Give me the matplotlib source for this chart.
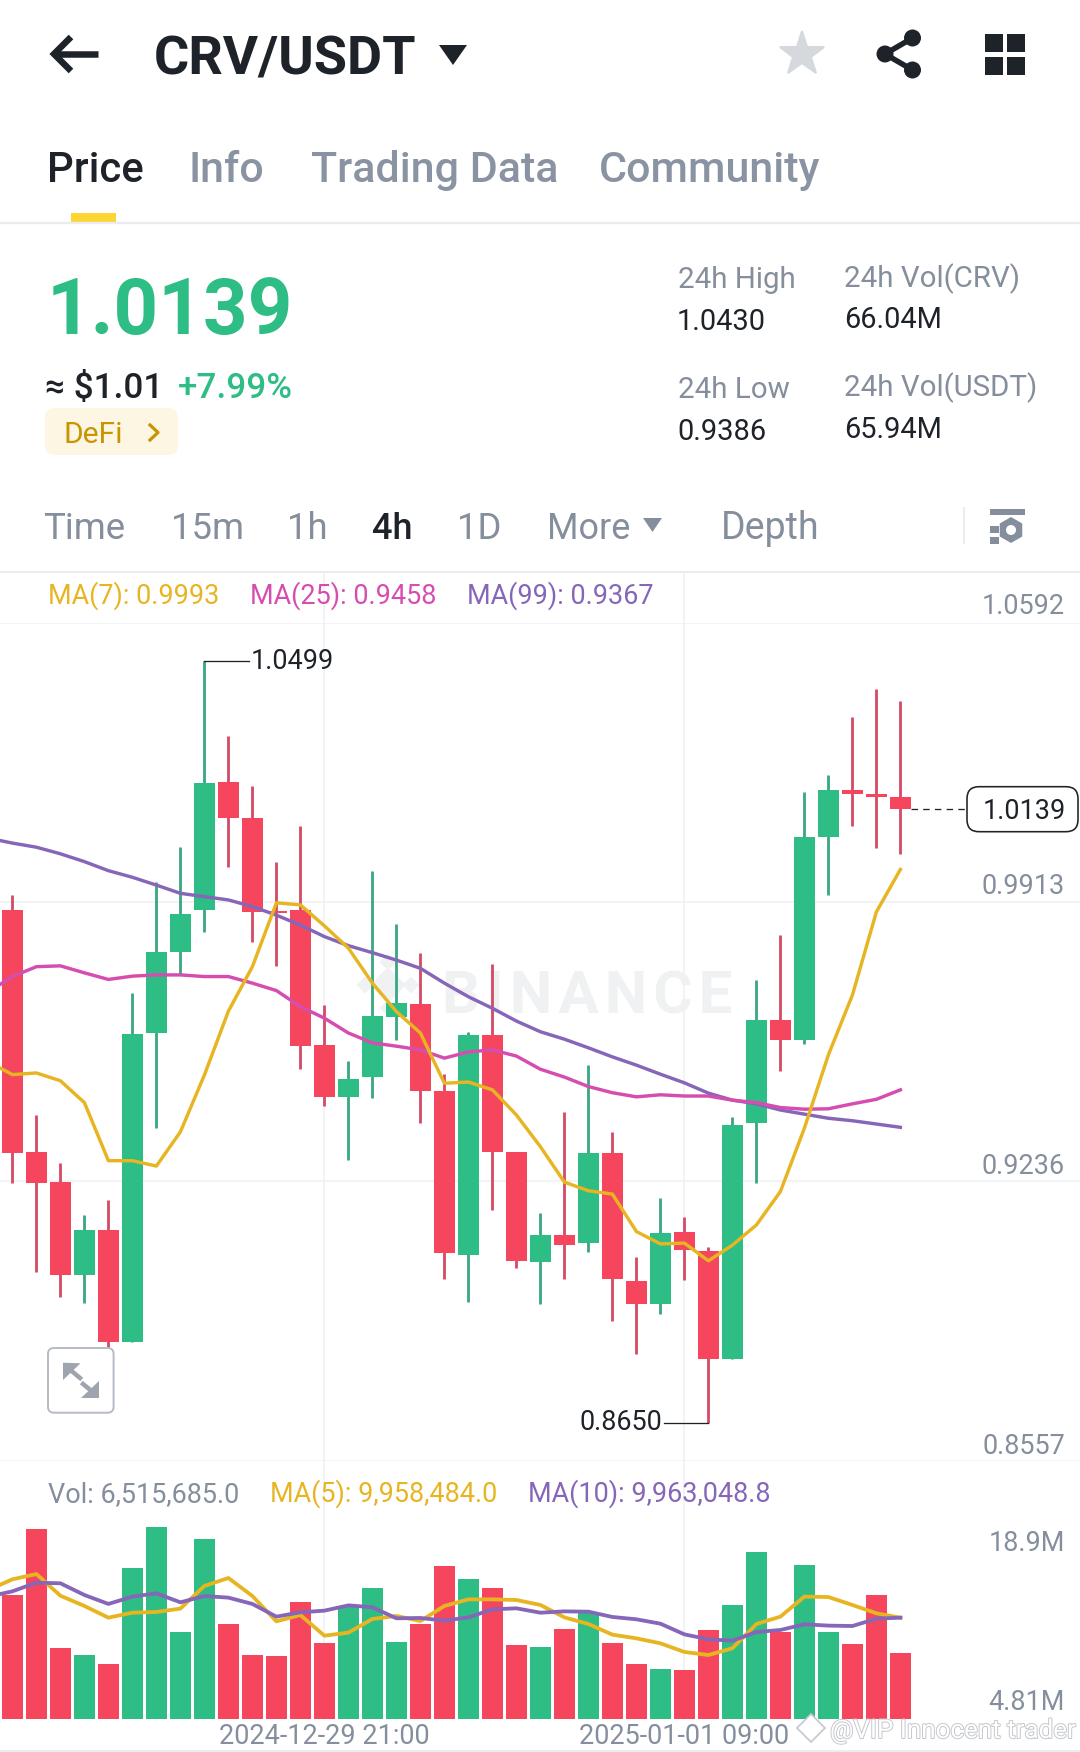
import numpy as np
import matplotlib
matplotlib.use("Agg")
import matplotlib.pyplot as plt
from matplotlib.patches import FancyBboxPatch, Polygon, Rectangle, Circle, RegularPolygon
from matplotlib.transforms import ScaledTranslation
import matplotlib.patheffects as pe

# ---------- data ----------
opens = [.9895,.9307,.9234,.9009,.9118,.8846,.9596,.9793,.9895,1.0205,1.0119,.9891,.9895,.9568,.9440,.9489,.9636,.9666,.9455,.9058,
         .9591,.9308,.9041,.9106,.9086,.9305,.8994,.8939,.9113,.9066,.8805,.9378,.9628,.9580,1.0072,1.0186,1.0177,1.0170]
highs = [.9931,.9397,.9280,.9154,.9191,.9693,.9963,1.0048,1.0499,1.0317,1.0196,1.0012,1.0098,.9664,.9529,.9989,.9861,.9790,.9496,.9598,
         .9764,.9308,.9160,.9404,.9518,.9356,.9052,.9195,.9150,.9077,.9392,.9725,.9834,1.0182,1.0223,1.0364,1.0430,1.0402]
lows = [.9232,.9017,.8955,.8941,.8831,.8846,.9366,.9737,.9841,1.0000,.9817,.9759,.9509,.9419,.9288,.9437,.9579,.9378,.8999,.8944,
        .9166,.9026,.8938,.9000,.9065,.8898,.8817,.8914,.8996,.8650,.8805,.9233,.9504,.9570,.9932,1.0098,1.0044,1.0031]
closes = [.9305,.9233,.9009,.9118,.8846,.9594,.9793,.9885,1.0203,1.0119,.9890,.9888,.9565,.9441,.9485,.9637,.9669,.9455,.9062,.9592,
          .9308,.9043,.9106,.9081,.9305,.8999,.8939,.9111,.9068,.8805,.9373,.9628,.9580,1.0072,1.0186,1.0177,1.0168,1.0139]
ma7 = [.9526,.9495,.9499,.9480,.9427,.9286,.9286,.9273,.9356,.9494,.9649,.9757,.9912,.9907,.9856,.9802,.9717,.9648,.9596,.9474,
       .9477,.9458,.9397,.9320,.9234,.9213,.9205,.9114,.9084,.9086,.9043,.9081,.9130,.9211,.9365,.9543,.9688,.9890,.9993]
ma25 = [.9696,.9733,.9757,.9759,.9742,.9726,.9734,.9737,.9737,.9733,.9733,.9717,.9699,.9660,.9632,.9596,.9572,.9564,.9555,.9535,
        .9550,.9555,.9540,.9508,.9489,.9466,.9451,.9441,.9446,.9443,.9443,.9433,.9427,.9415,.9411,.9412,.9424,.9435,.9458]
ma99 = [1.0069,1.0057,1.0047,1.0031,1.0012,.9990,.9974,.9955,.9935,.9927,.9919,.9903,.9882,.9858,.9830,.9808,.9791,.9773,.9753,.9717,
        .9684,.9656,.9625,.9599,.9581,.9560,.9538,.9518,.9496,.9475,.9450,.9433,.9424,.9409,.9399,.9389,.9383,.9375,.9367]
volumes = [12.16,18.71,7.01,6.26,5.44,14.84,18.91,8.52,17.66,9.31,6.26,6.19,11.53,7.50,10.98,12.85,7.54,9.37,15.04,13.80,
           12.88,7.27,7.08,8.88,10.39,7.50,5.41,4.95,4.82,8.78,11.21,16.42,8.59,15.14,8.52,7.41,12.19,6.516]
vol_ma5 = [12.68,13.73,14.25,12.12,11.11,9.96,10.45,10.52,10.85,13.08,13.86,12.09,9.60,10.22,8.19,8.49,9.83,10.13,9.63,11.11,
           11.76,11.76,11.70,11.21,9.99,9.34,8.29,7.93,7.44,6.59,6.29,6.95,9.34,10.06,12.03,11.99,11.21,10.39,9.958]
vol_ma10 = [12.03,12.55,13.40,13.34,12.19,11.31,12.03,12.35,11.47,12.09,11.93,11.31,10.06,10.49,10.65,11.17,10.98,9.90,9.93,9.67,
            9.99,10.78,10.88,10.45,10.58,10.55,10.03,9.80,9.37,8.32,7.83,7.70,8.55,8.75,9.31,9.18,9.14,9.86,9.963]
price_ticks = [1.0592, 0.9913, 0.9236, 0.8557]
price_labels = ["1.0592", "0.9913", "0.9236", "0.8557"]
vol_ticks = [18.9, 4.81]
vol_labels = ["18.9M", "4.81M"]
date_ticks = [13, 28]
date_labels = ["2024-12-29 21:00", "2025-01-01 09:00"]
high_mark, low_mark, last_price = 1.0499, 0.8650, 1.0139

# ---------- style ----------
W, H = 1080, 1752
UP, DOWN = "#2EBD85", "#F6465D"
UPW, DOWNW = "#38A883", "#D34B65"
YEL, MAG, PUR = "#E8B522", "#D64DB0", "#8666B8"
DARK, GREY, LINE = "#1E2329", "#858E9C", "#EAECEF"
GRID = "#EEF0F4"
FONT = "Roboto"
px = 0.72  # px -> pt at dpi 100

fig = plt.figure(figsize=(W/100, H/100), dpi=100, facecolor="white")

def box(x0, ytop, x1, ybot):
    return [x0/W, 1-ybot/H, (x1-x0)/W, (ybot-ytop)/H]

bg = fig.add_axes([0, 0, 1, 1], zorder=0); bg.set_xlim(0, W); bg.set_ylim(H, 0); bg.axis("off")
ui = fig.add_axes([0, 0, 1, 1], zorder=3); ui.set_xlim(0, W); ui.set_ylim(H, 0); ui.axis("off"); ui.patch.set_alpha(0)

def T(a, x, y, s, size, color=DARK, ha="left", weight="normal", **kw):
    return a.text(x, y, s, fontsize=size*px, color=color, ha=ha, va="baseline", weight=weight, family=FONT, **kw)

# ---------- background grid + watermark ----------
WM = "#F0F1F2"
for vx in (324.4, 684.4):
    bg.plot([vx, vx], [573, 1719], color=GRID, lw=1.5*px)
bg.plot([0, W], [572, 572], color=LINE, lw=2*px)
T(bg, 442, 1013, "B\u200aI\u200aN\u200aA\u200aN\u200aC\u200aE", 60, WM, weight="bold")
for cx, cy, r in [(388, 985, 15), (365, 985, 7), (411, 985, 7), (388, 962, 7), (388, 1008, 7)]:
    bg.add_patch(RegularPolygon((cx, cy), 4, radius=r*1.2, orientation=0, color=WM, lw=0))

# ---------- price panel ----------
xlim = (-12.4/24, (W-12.4)/24)
ax = fig.add_axes(box(0, 622.7, W, 1461), zorder=1)
ax.patch.set_alpha(0)
ax.set_xlim(*xlim); ax.set_ylim(0.8557, 1.0592)
for s in ax.spines.values():
    s.set_visible(False)
x = np.arange(len(opens))
o, h_, l_, c = map(np.array, (opens, highs, lows, closes))
up = c >= o
ax.vlines(x, l_, h_, colors=[UPW if u else DOWNW for u in up], lw=2.8*px, zorder=2)
ax.bar(x, np.abs(c-o), bottom=np.minimum(o, c), width=20.7/24,
       color=[UP if u else DOWN for u in up], lw=0, zorder=3)
xm = np.arange(-1, len(opens))
ax.plot(xm, ma99, color=PUR, lw=3.4*px, zorder=4)
ax.plot(xm, ma25, color=MAG, lw=3.4*px, zorder=4)
ax.plot(xm, ma7, color=YEL, lw=3.4*px, zorder=4)
ax.set_xticks([]); ax.yaxis.tick_right()
ax.set_yticks(price_ticks, price_labels)
ax.grid(axis="y", color=GRID, lw=1.5*px, zorder=0)
ax.set_axisbelow(True)
ax.tick_params(axis="y", length=0, pad=-15*px, labelsize=27*px, labelcolor=GREY)
for lbl, dy in zip(ax.get_yticklabels(), (8.5, 8.5, 7.5, 7)):
    lbl.set_family(FONT); lbl.set_ha("right"); lbl.set_va("baseline")
    lbl.set_transform(lbl.get_transform() + ScaledTranslation(0, dy/100, fig.dpi_scale_trans))

# extremes and last price
ax.plot([8, 9.84], [high_mark]*2, color=DARK, lw=1.3*px, zorder=5)
ax.text(9.94, high_mark, f"{high_mark:.4f}", fontsize=27*px, color=DARK, family=FONT, va="center", ha="left", zorder=6)
ax.plot([27.15, 29], [low_mark]*2, color=DARK, lw=1.3*px, zorder=5)
ax.text(27.07, low_mark, f"{low_mark:.4f}", fontsize=27*px, color=DARK, family=FONT, va="center", ha="right", zorder=6)
ax.plot([37.45, 39.7], [last_price]*2, color=DARK, lw=1.3*px, ls=(0, (5, 4)), zorder=5)

# ---------- volume panel ----------
vol = fig.add_axes(box(0, 1461, W, 1719), zorder=1)
vol.patch.set_alpha(0)
vol.set_xlim(*xlim); vol.set_ylim(0, 258*0.0983)
for s in vol.spines.values():
    s.set_visible(False)
vol.bar(x, volumes, width=20.7/24, color=[UP if u else DOWN for u in up], lw=0, zorder=2)
vol.plot(xm, vol_ma5, color=YEL, lw=3.8*px, zorder=3)
vol.plot(xm, vol_ma10, color=PUR, lw=3.8*px, zorder=3)
vol.yaxis.tick_right()
vol.set_yticks(vol_ticks, vol_labels)
vol.tick_params(axis="y", length=0, pad=-15*px, labelsize=27*px, labelcolor=GREY)
for lbl, dy in zip(vol.get_yticklabels(), (-24.5, -40)):
    lbl.set_family(FONT); lbl.set_ha("right"); lbl.set_va("baseline")
    lbl.set_transform(lbl.get_transform() + ScaledTranslation(0, dy/100, fig.dpi_scale_trans))
vol.set_xticks(date_ticks, date_labels)
vol.tick_params(axis="x", length=0, pad=3, labelsize=27*px, labelcolor=GREY)
for lbl in vol.get_xticklabels():
    lbl.set_family(FONT)

# ---------- header ----------
bg.plot([0, W], [222.7, 222.7], color=LINE, lw=2.4*px)
bg.add_patch(Rectangle((71, 213), 45, 9, color="#FCD535", lw=0))
ui.plot([98, 55], [54, 54], color=DARK, lw=6.5*px, solid_capstyle="butt")
ui.plot([71, 54, 71], [37, 54, 71], color=DARK, lw=6.5*px, solid_joinstyle="miter", solid_capstyle="butt")
T(ui, 154, 74, "CRV/USDT", 54, DARK, weight="bold")
ui.add_patch(Polygon([(439, 45), (467, 45), (453, 65)], closed=True, color=DARK, lw=0, joinstyle="round"))
ui.plot([802], [54], marker="*", ms=47*px, color="#D5D9DE", mec="#D5D9DE", mew=1.5, lw=0)
for p, q in [((912.5, 38), (885, 54)), ((885, 54), (912.5, 70))]:
    ui.plot([p[0], q[0]], [p[1], q[1]], color=DARK, lw=5.5*px)
for cc in [(912.5, 38), (885, 54), (912.5, 70)]:
    ui.add_patch(Circle(cc, 8.5, color=DARK, lw=0))
for xx, yy in [(985, 34), (1007, 34), (985, 57), (1007, 57)]:
    ui.add_patch(Rectangle((xx, yy), 18, 17.5, color=DARK, lw=0))

T(ui, 46.5, 182, "Price", 42, DARK, weight="medium")
T(ui, 188, 182, "Info", 43, "#8A93A2", weight="medium")
T(ui, 311, 182, "Trading Data", 43, "#8A93A2", weight="medium")
T(ui, 599, 182, "Community", 43, "#8A93A2", weight="medium")

T(ui, 47, 334, "1.0139", 78, UP, weight="bold")
T(ui, 45, 398, "≈ $1.01", 35, DARK, weight="medium")
T(ui, 178, 398, "+7.99%", 35, UP, weight="medium")
ui.add_patch(FancyBboxPatch((55, 418), 113, 27, boxstyle="round,pad=10,rounding_size=10", fc="#FDF6E3", ec="none"))
T(ui, 64, 443, "DeFi", 30, "#C99400")
ui.plot([150, 158, 150], [425, 432.5, 440], color="#C99400", lw=3.2*px)

T(ui, 678, 288, "24h High", 29.5, GREY)
T(ui, 677, 330, "1.0430", 29, DARK)
T(ui, 844, 287, "24h Vol(CRV)", 29.5, GREY)
T(ui, 844, 328, "66.04M", 29, DARK)
T(ui, 678, 398, "24h Low", 29.5, GREY)
T(ui, 677, 440, "0.9386", 29, DARK)
T(ui, 844, 396.5, "24h Vol(USDT)", 29.5, GREY)
T(ui, 844, 438, "65.94M", 29, DARK)

T(ui, 43.5, 539, "Time", 36.5, GREY)
T(ui, 170.5, 539, "15m", 36.5, GREY)
T(ui, 287.5, 539, "1h", 36.5, GREY)
T(ui, 372, 539, "4h", 36, DARK, weight="medium")
T(ui, 457.5, 539, "1D", 36.5, GREY)
T(ui, 547, 539, "More", 36, GREY)
ui.add_patch(Polygon([(643, 518), (662, 518), (652.5, 532)], closed=True, color=GREY, lw=0))
T(ui, 720.5, 539, "Depth", 37.5, GREY)
ui.plot([964, 964], [508, 543], color=LINE, lw=2*px)
ui.add_patch(Rectangle((990, 509), 35, 5.5, color=GREY, lw=0))
ui.add_patch(Rectangle((990, 526), 9, 6.5, color=GREY, lw=0))
ui.add_patch(Rectangle((990, 537), 9, 6.5, color=GREY, lw=0))
ui.add_patch(RegularPolygon((1011, 530), 6, radius=13, color=GREY, lw=0))
ui.add_patch(Circle((1011, 530), 5, color="white", lw=0))

T(ui, 48, 604, "MA(7): 0.9993", 27, YEL)
T(ui, 250, 604, "MA(25): 0.9458", 27, MAG)
T(ui, 467, 604, "MA(99): 0.9367", 27, PUR)
T(ui, 48, 1502, "Vol: 6,515,685.0", 27, GREY)
T(ui, 270, 1502, "MA(5): 9,958,484.0", 27, YEL)
T(ui, 528, 1502, "MA(10): 9,963,048.8", 27, PUR)

# last-price pill
ui.add_patch(FancyBboxPatch((979, 798.7), 87, 21, boxstyle="round,pad=12,rounding_size=12", fc="white", ec=DARK, lw=1.6*px))
T(ui, 982.5, 819, "1.0139", 27, DARK)
# expand button
ui.add_patch(FancyBboxPatch((54, 1354), 53.6, 52.7, boxstyle="round,pad=6,rounding_size=6", fc="white", ec="#B7BDC6", lw=2*px))
BTN = "#9EA5AE"
ui.add_patch(Polygon([(63, 1362.7), (80.5, 1363.3), (63, 1380)], closed=True, color=BTN, lw=0))
ui.add_patch(Polygon([(99, 1398), (81, 1398), (99, 1381)], closed=True, color=BTN, lw=0))
ui.plot([68, 80], [1368, 1378], color=BTN, lw=4.5*px)
ui.plot([83, 94], [1384, 1393], color=BTN, lw=4.5*px)

# footer watermark and line
bg.plot([0, W], [1750.5, 1750.5], color=LINE, lw=2*px)
wm = T(ui, 830, 1738, "@VIP Innocent trader", 26, "white")
wm.set_path_effects([pe.withStroke(linewidth=1.4, foreground="#C4C8CE")])
ui.plot([811], [1728], marker="D", ms=14, mfc="white", mec="#C4C8CE", mew=1.2)

fig.savefig("out.png", dpi=100, facecolor="white")
